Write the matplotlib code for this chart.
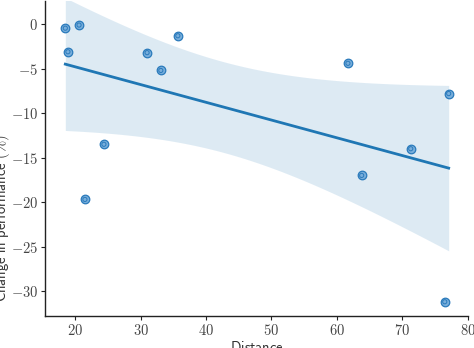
import matplotlib
matplotlib.use('Agg')
import matplotlib.pyplot as plt
from matplotlib.ticker import FuncFormatter
import numpy as np

# values
distance = np.array([18.5, 20.6, 18.9, 21.5, 24.4, 31.0, 33.1, 35.7,
                     61.7, 63.8, 71.3, 77.1, 76.5])
change = np.array([-0.45, -0.1, -3.1, -19.7, -13.5, -3.2, -5.2, -1.3,
                   -4.4, -17.0, -14.0, -7.8, -31.2])
xticks = [20, 30, 40, 50, 60, 70, 80]
yticks = [0, -5, -10, -15, -20, -25, -30]

plt.rcParams['mathtext.fontset'] = 'cm'

fig = plt.figure(figsize=(4.74, 3.48), dpi=100)
ax = fig.add_axes([0.095, 0.092, 0.893, 0.905])

c = '#1f77b4'

# linear fit with analytic 95% band
slope, icpt = np.polyfit(distance, change, 1)
n = len(distance)
xx = np.linspace(distance.min(), distance.max(), 100)
yy = icpt + slope * xx
resid = change - (icpt + slope * distance)
s = np.sqrt(np.sum(resid**2) / (n - 2))
sxx = np.sum((distance - distance.mean())**2)
t_crit = 2.201  # t(0.975, df=11)
half = t_crit * s * np.sqrt(1/n + (xx - distance.mean())**2 / sxx)

ax.fill_between(xx, yy - half, yy + half, color=c, alpha=0.15, lw=0)
ax.plot(xx, yy, color=c, lw=2)

ax.scatter(distance, change, s=38, facecolor='#78aedb', edgecolor='#2a7abb',
           lw=0.9, zorder=3)
ax.scatter(distance, change, s=9, facecolor='none', edgecolor='#2a7abb',
           lw=0.7, zorder=4)

ax.set_xlim(15.4, 80.1)
ax.set_ylim(-32.8, 2.6)
ax.set_xticks(xticks)
ax.set_yticks(yticks)
fmt = FuncFormatter(lambda v, p: r'$%g$' % v)
ax.xaxis.set_major_formatter(fmt)
ax.yaxis.set_major_formatter(fmt)
ax.tick_params(labelsize=10.5, length=3, width=0.8, pad=2, color='#222222',
               labelcolor='#444444')

ax.spines['top'].set_visible(False)
ax.spines['right'].set_visible(False)
for sp in ['left', 'bottom']:
    ax.spines[sp].set_linewidth(1.0)
    ax.spines[sp].set_color('#222222')

ax.set_xlabel(r'$\mathsf{Distance}$', fontsize=10.5, color='#333333')
ax.xaxis.set_label_coords(0.5, -0.075)
ax.set_ylabel(r'$\mathsf{Change\ in\ performance\ (\%)}$', fontsize=10.5,
              color='#333333')
ax.yaxis.set_label_coords(-0.078, 0.31)

fig.savefig('out.png', dpi=100)
